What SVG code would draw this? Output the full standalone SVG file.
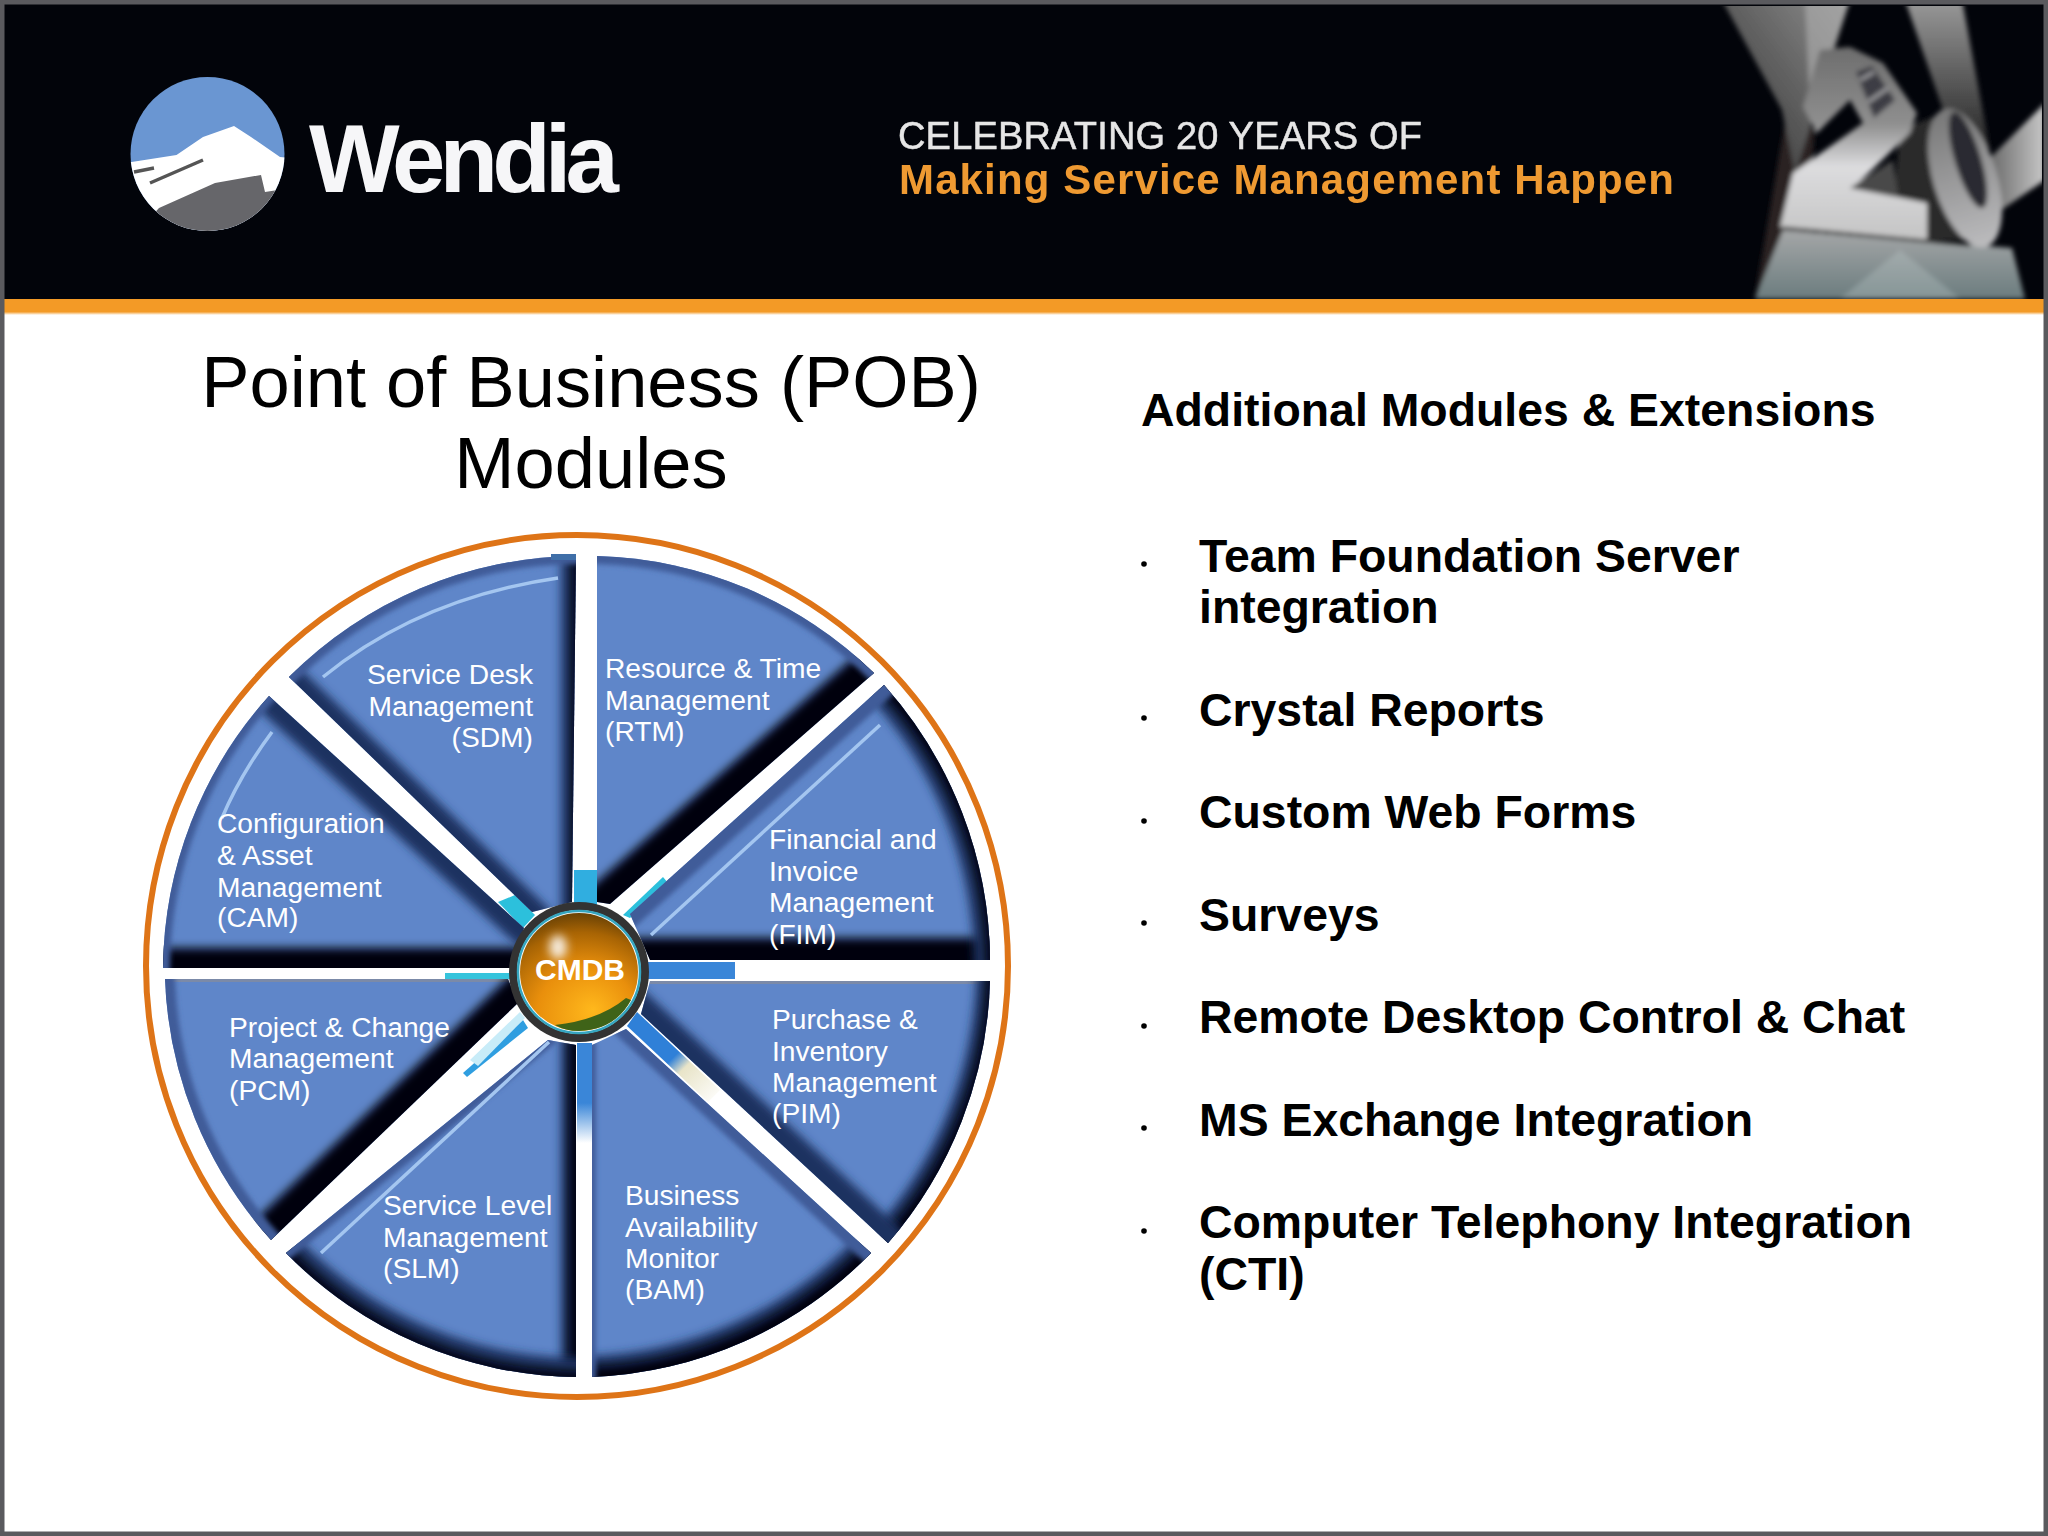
<svg xmlns="http://www.w3.org/2000/svg" width="2048" height="1536" viewBox="0 0 2048 1536">
<defs>
<style>
text{font-family:"Liberation Sans",Arial,sans-serif}
.lab{font-size:28.2px;fill:#fff}
.item{font-size:46.4px;font-weight:bold;fill:#000}
.title{font-size:72.3px;fill:#000;text-anchor:middle}
.face{fill:#5f86c9}
.k{fill:none;stroke:#00040c;filter:url(#b4);stroke-linecap:square}
.n{fill:none;stroke:#1f3360;filter:url(#b4);stroke-linecap:square}
.m{fill:none;stroke:#3f5c99;filter:url(#b2);stroke-linecap:square}
.hl{fill:none;stroke:#a4c6f0;stroke-width:3.5}
</style>
<filter id="b4" filterUnits="userSpaceOnUse" x="0" y="0" width="2048" height="1536"><feGaussianBlur stdDeviation="5"/></filter>
<filter id="b2" filterUnits="userSpaceOnUse" x="0" y="0" width="2048" height="1536"><feGaussianBlur stdDeviation="2.5"/></filter>
<filter id="b1" filterUnits="userSpaceOnUse" x="1700" y="0" width="348" height="300"><feGaussianBlur stdDeviation="2.5"/></filter>
<filter id="bt" x="-5%" y="-20%" width="110%" height="140%"><feGaussianBlur stdDeviation="0.7"/></filter>
<filter id="b8" x="-50%" y="-50%" width="200%" height="200%"><feGaussianBlur stdDeviation="5"/></filter>
<clipPath id="cLogo"><circle cx="207.5" cy="154" r="77"/></clipPath>
<clipPath id="cTrophy"><rect x="1700" y="6" width="342" height="293"/></clipPath>
<clipPath id="cSDM"><path d="M576 556A412 412 0 0 0 289 677L532 912L572 902Z"/></clipPath>
<clipPath id="cRTM"><path d="M597 556A412 412 0 0 1 874 673L610 904L597 902Z"/></clipPath>
<clipPath id="cFIM"><path d="M884 685A416 416 0 0 1 990 960H650L630 914Z"/></clipPath>
<clipPath id="cPIM"><path d="M650 981H990A416 416 0 0 1 888 1243L641 1014Z"/></clipPath>
<clipPath id="cBAM"><path d="M626 1029L871 1253A412 412 0 0 1 592 1377V1045Z"/></clipPath>
<clipPath id="cSLM"><path d="M548 1040L286 1253A412 412 0 0 0 576 1377V1045Z"/></clipPath>
<clipPath id="cPCM"><path d="M165 979H508L518 1003L271 1240A412 412 0 0 1 165 979Z"/></clipPath>
<clipPath id="cCAM"><path d="M269 696L524 928L510 968H163A412 412 0 0 1 269 696Z"/></clipPath>
<radialGradient id="ball" cx="50%" cy="95%" r="95%" fx="62%" fy="82%">
<stop offset="0" stop-color="#ffb81c"/><stop offset=".45" stop-color="#e98f0c"/><stop offset=".8" stop-color="#a86404"/><stop offset="1" stop-color="#6a4205"/>
</radialGradient>
<linearGradient id="beamA" x1="1" y1="0" x2="0" y2="1"><stop offset="0" stop-color="#8f8f8f"/><stop offset="1" stop-color="#2c2c2c"/></linearGradient>
<linearGradient id="beamB" x1="0" y1="0" x2="0" y2="1"><stop offset="0" stop-color="#999"/><stop offset="1" stop-color="#222"/></linearGradient>
<linearGradient id="beamC" x1="1" y1="0" x2="0" y2="0"><stop offset="0" stop-color="#c8c8c8"/><stop offset="1" stop-color="#666"/></linearGradient>
<linearGradient id="two" x1="0" y1="0" x2="0" y2="1"><stop offset="0" stop-color="#6d6d6d"/><stop offset=".4" stop-color="#8f8f8f"/><stop offset=".62" stop-color="#dcdcde"/><stop offset="1" stop-color="#c4c4c4"/></linearGradient>
<linearGradient id="zero" x1="0" y1="0" x2="0" y2="1"><stop offset="0" stop-color="#777"/><stop offset="1" stop-color="#bcbcbe"/></linearGradient>
<linearGradient id="base" x1="0" y1="0" x2="0" y2="1"><stop offset="0" stop-color="#a5a7a8"/><stop offset="1" stop-color="#6b7c7e"/></linearGradient>
<linearGradient id="sfade" x1="0" y1="0" x2="0" y2="1"><stop offset="0" stop-color="#3a86d8"/><stop offset=".6" stop-color="#3a86d8"/><stop offset="1" stop-color="#fff"/></linearGradient>
<linearGradient id="sefade" x1="0" y1="0" x2="1" y2="1"><stop offset="0" stop-color="#2f80d8"/><stop offset=".5" stop-color="#2f80d8"/><stop offset=".62" stop-color="#e8e4c8"/><stop offset="1" stop-color="#fff"/></linearGradient>
<linearGradient id="bar" x1="0" y1="0" x2="0" y2="1"><stop offset="0" stop-color="#f39a26"/><stop offset=".8" stop-color="#f39a26"/><stop offset="1" stop-color="#fff"/></linearGradient>
</defs>

<rect width="2048" height="1536" fill="#fff"/>

<g id="header">
<rect x="0" y="0" width="2048" height="301" fill="#02040a"/>
<rect x="0" y="299" width="2048" height="16" fill="url(#bar)"/>
<g id="trophy" clip-path="url(#cTrophy)">
<g filter="url(#b1)">
<path d="M1755 297L1787 110L1815 130L1800 297Z" fill="#2a2424"/>
<path d="M1722 0H1850L1795 175L1782 110Z" fill="url(#beamA)"/>
<path d="M1805 0H1850L1810 110Z" fill="#b0b0b0" opacity=".6"/>
<path d="M1905 0H1962L1990 150L1943 110Z" fill="url(#beamB)"/>
<path d="M2045 103V180L1997 213L1988 160Z" fill="url(#beamC)"/>
<path d="M1900 130L1950 110L1985 240L1890 240Z" fill="#2a2a2a"/>
<path d="M1820 50L1850 47L1883 63L1917 113L1910 133L1853 188L1927 203V240L1780 227L1793 173L1863 123L1850 100L1817 133L1803 107Z" fill="url(#two)"/>
<path d="M1850 188L1893 160L1898 197Z" fill="#4a4a48"/>
<path d="M1856 72L1872 66L1895 100L1874 118Z" fill="#3e3e44"/>
<path d="M1860 80L1874 72M1868 102L1888 88" stroke="#a5a5a8" stroke-width="3" fill="none"/>
<path d="M1755 299L1783 230L2012 248L2025 299Z" fill="url(#base)"/>
<path d="M1783 228L1970 245" stroke="#2a2a2a" stroke-width="3" fill="none"/>
<ellipse cx="1965" cy="178" rx="32" ry="72" transform="rotate(-17 1965 178)" fill="url(#zero)"/>
<ellipse cx="1968" cy="160" rx="13" ry="50" transform="rotate(-17 1968 160)" fill="#2c2c30"/>
<path d="M1840 299L1900 250L1960 299Z" fill="#c5cfd0" opacity=".3"/>
</g>
</g>
<g id="logo">
<g clip-path="url(#cLogo)">
<rect x="130" y="77" width="155" height="155" fill="#6a96d2"/>
<path d="M125 163L176.5 155L203 137L234 126L251 137L280 157L290 158V240H125Z" fill="#fff"/>
<path d="M159 208L215 183L261 175L265 192L278 190L295 232V240H130Z" fill="#66666a"/>
<path d="M150 183L203 160M134 172L154 168" stroke="#555" stroke-width="3.5" fill="none"/>
</g>
<text x="309" y="192" font-size="96" font-weight="bold" fill="#f6f6f8" textLength="310" lengthAdjust="spacing" filter="url(#bt)">Wendia</text>
</g>
<g id="tagline" filter="url(#bt)">
<text x="898" y="149" font-size="38" fill="#e6e6e6" stroke="#e6e6e6" stroke-width=".5" textLength="524" lengthAdjust="spacing">CELEBRATING 20 YEARS OF</text>
<text x="899" y="194" font-size="42" font-weight="bold" fill="#ef9a30" textLength="775" lengthAdjust="spacing">Making Service Management Happen</text>
</g>
</g>

<g id="frame" fill="none" stroke="#5a5a5e" stroke-width="5">
<rect x="2" y="2" width="2044" height="1532"/>
</g>

<g id="title">
<text class="title" x="591" y="407">Point of Business (POB)</text>
<text class="title" x="591" y="488">Modules</text>
</g>

<g id="additional-modules">
<text x="1141" y="426" font-size="46.4" font-weight="bold" fill="#000">Additional Modules &amp; Extensions</text>
<g fill="#000">
<circle cx="1144" cy="564" r="2.8"/><circle cx="1144" cy="718" r="2.8"/><circle cx="1144" cy="821" r="2.8"/><circle cx="1144" cy="923" r="2.8"/><circle cx="1144" cy="1026" r="2.8"/><circle cx="1144" cy="1128" r="2.8"/><circle cx="1144" cy="1231" r="2.8"/>
</g>
<text class="item" x="1199" y="572">Team Foundation Server</text>
<text class="item" x="1199" y="623">integration</text>
<text class="item" x="1199" y="726">Crystal Reports</text>
<text class="item" x="1199" y="828">Custom Web Forms</text>
<text class="item" x="1199" y="931">Surveys</text>
<text class="item" x="1199" y="1033">Remote Desktop Control &amp; Chat</text>
<text class="item" x="1199" y="1136">MS Exchange Integration</text>
<text class="item" x="1199" y="1238">Computer Telephony Integration</text>
<text class="item" x="1199" y="1290">(CTI)</text>
</g>

<g id="wheel">
<circle id="ring" cx="577" cy="966" r="431" fill="none" stroke="#de7417" stroke-width="6"/>

<g id="gaps">
<rect x="574" y="870" width="23" height="36" fill="#30aee0"/>
<path d="M498 902L515 895L535 915L523 928Z" fill="#2cc0dc"/>
<path d="M623 915L663 877L668 883L630 918Z" fill="#2cc0dc"/>
<rect x="648" y="962" width="87" height="17" fill="#3a86d8"/>
<rect x="445" y="973" width="72" height="6" fill="#36c4dc"/>
<path d="M627 1026L637 1012L720 1090L708 1102Z" fill="url(#sefade)"/>
<path d="M463 1073L523 1020L528 1028L467 1077Z" fill="#2f9ee0"/>
<path d="M470 1060L520 1012L525 1018L478 1066Z" fill="#c8ecf8"/>
<rect x="577" y="1043" width="15" height="100" fill="url(#sfade)"/>
</g>

<g id="sdm">
<g clip-path="url(#cSDM)">
<rect x="280" y="540" width="310" height="380" class="face"/>
<path d="M578 550V910" class="n" stroke-width="34"/><path d="M578 550V910" class="k" stroke-width="12"/>
<path d="M289 677L532 912" class="n" stroke-width="28"/>
<path d="M576 556A412 412 0 0 0 289 677" class="m" stroke-width="16"/>
</g>
<path d="M323 677Q420 598 558 578" class="hl"/>
<rect x="551" y="554" width="25" height="6" fill="#3f6fa8"/>
<text class="lab" text-anchor="end"><tspan x="533" y="684">Service Desk</tspan><tspan x="533" y="715.5">Management</tspan><tspan x="533" y="747">(SDM)</tspan></text>
</g>

<g id="rtm">
<g clip-path="url(#cRTM)">
<rect x="590" y="540" width="300" height="380" class="face"/>
<path d="M874 673L610 904" class="k" stroke-width="50"/>
<path d="M597 556A412 412 0 0 1 874 673" class="m" stroke-width="16"/>
</g>
<text class="lab"><tspan x="605" y="678">Resource &amp; Time</tspan><tspan x="605" y="710">Management</tspan><tspan x="605" y="741">(RTM)</tspan></text>
</g>

<g id="fim">
<g clip-path="url(#cFIM)">
<rect x="620" y="670" width="390" height="300" class="face"/>
<path d="M650 960H993" class="k" stroke-width="44"/>
<path d="M884 685A416 416 0 0 1 993 960" class="n" stroke-width="38"/>
<path d="M884 685A416 416 0 0 1 993 960" class="k" stroke-width="14"/>
<path d="M884 685L630 914" class="m" stroke-width="26"/>
</g>
<path d="M880 725L651 935" class="hl"/>
<text class="lab"><tspan x="769" y="849">Financial and</tspan><tspan x="769" y="881">Invoice</tspan><tspan x="769" y="912">Management</tspan><tspan x="769" y="944">(FIM)</tspan></text>
</g>

<g id="pim">
<g clip-path="url(#cPIM)">
<rect x="630" y="975" width="380" height="280" class="face"/>
<path d="M650 981H995" stroke="#7b8aa8" stroke-width="6" fill="none"/>
<path d="M995 981A416 416 0 0 1 888 1243" class="n" stroke-width="38"/>
<path d="M995 981A416 416 0 0 1 888 1243" class="k" stroke-width="16"/>
<path d="M888 1243L641 1014" class="n" stroke-width="38"/>
</g>
<text class="lab"><tspan x="772" y="1029">Purchase &amp;</tspan><tspan x="772" y="1061">Inventory</tspan><tspan x="772" y="1092">Management</tspan><tspan x="772" y="1123">(PIM)</tspan></text>
</g>

<g id="bam">
<g clip-path="url(#cBAM)">
<rect x="585" y="1020" width="300" height="370" class="face"/>
<path d="M871 1253A412 412 0 0 1 592 1377" class="n" stroke-width="42"/>
<path d="M871 1253A412 412 0 0 1 592 1377" class="k" stroke-width="20"/>
<path d="M626 1029L871 1253" class="m" stroke-width="22"/>
<path d="M592 1045V1377" class="m" stroke-width="8"/>
</g>
<text class="lab"><tspan x="625" y="1205">Business</tspan><tspan x="625" y="1237">Availability</tspan><tspan x="625" y="1268">Monitor</tspan><tspan x="625" y="1299">(BAM)</tspan></text>
</g>

<g id="slm">
<g clip-path="url(#cSLM)">
<rect x="280" y="1030" width="305" height="360" class="face"/>
<path d="M576 1045V1377" class="n" stroke-width="30"/><path d="M576 1045V1377" class="k" stroke-width="14"/>
<path d="M286 1253A412 412 0 0 0 578 1377" class="n" stroke-width="38"/>
<path d="M286 1253A412 412 0 0 0 578 1377" class="k" stroke-width="12"/>
<path d="M548 1040L286 1253" class="m" stroke-width="14"/>
</g>
<path d="M321 1253L549 1042" class="hl"/>
<text class="lab"><tspan x="383" y="1215">Service Level</tspan><tspan x="383" y="1247">Management</tspan><tspan x="383" y="1278">(SLM)</tspan></text>
</g>

<g id="pcm">
<g clip-path="url(#cPCM)">
<rect x="155" y="970" width="370" height="280" class="face"/>
<path d="M165 979H510" stroke="#7b8aa8" stroke-width="6" fill="none"/>
<path d="M271 1240L518 1003" class="k" stroke-width="50"/>
<path d="M271 1240A412 412 0 0 1 165 979" class="m" stroke-width="20"/>
</g>
<text class="lab"><tspan x="229" y="1037">Project &amp; Change</tspan><tspan x="229" y="1068">Management</tspan><tspan x="229" y="1100">(PCM)</tspan></text>
</g>

<g id="cam">
<g clip-path="url(#cCAM)">
<rect x="155" y="685" width="380" height="290" class="face"/>
<path d="M163 968H515" class="k" stroke-width="40"/>
<path d="M269 696L524 928" class="n" stroke-width="34"/>
<path d="M163 968A412 412 0 0 1 269 696" class="m" stroke-width="14"/>
</g>
<path d="M272 732Q240 775 222 818" class="hl"/>
<text class="lab"><tspan x="217" y="833">Configuration</tspan><tspan x="217" y="865">&amp; Asset</tspan><tspan x="217" y="897">Management</tspan><tspan x="217" y="927">(CAM)</tspan></text>
</g>

<g id="cmdb">
<circle cx="579" cy="972" r="70" fill="#333"/>
<circle cx="579" cy="972" r="62" fill="#fff"/>
<circle cx="579" cy="972" r="61" fill="none" stroke="#36a6c0" stroke-width="2.5"/>
<circle cx="579" cy="972" r="59" fill="url(#ball)"/>
<path d="M555 1025Q600 1020 626 998L631 1000Q615 1030 579 1031Q565 1031 555 1025Z" fill="#3f6318"/>
<ellipse cx="558" cy="947" rx="9" ry="12" fill="#fff" opacity=".85" filter="url(#b8)"/>
<text x="580" y="980" font-size="30" font-weight="bold" fill="#fff" text-anchor="middle">CMDB</text>
</g>
</g>
</svg>
